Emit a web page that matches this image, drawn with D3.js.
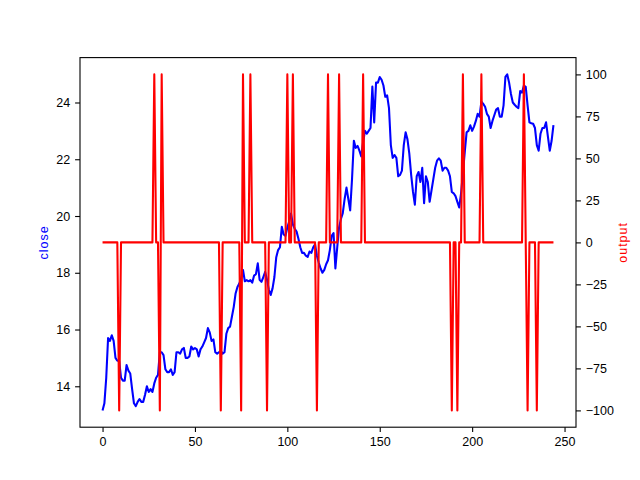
<!DOCTYPE html>
<html><head><meta charset="utf-8">
<script src="https://cdn.jsdelivr.net/npm/d3@7/dist/d3.min.js"></script>
<style>body{margin:0;background:#fff}svg text{font-family:"Liberation Sans",Arial,sans-serif}</style>
</head><body><svg id="c" width="640" height="480"></svg>
<script>
const close = [
13.15,13.4,14.3,15.7,15.6,15.8,15.6,15.0,14.9,14.9,14.3,14.2,14.2,14.75,14.55,14.45,13.9,13.4,13.3,13.45,
13.55,13.45,13.45,13.7,14.0,13.8,13.9,13.8,14.1,14.3,14.4,15.2,15.2,15.1,14.6,14.5,14.5,14.6,14.4,14.5,
15.2,15.2,15.15,15.3,15.35,15.0,15.0,15.05,15.4,15.3,15.35,15.3,15.05,15.3,15.4,15.55,15.7,16.05,15.9,15.6,
15.65,15.2,15.15,15.2,15.25,15.15,15.2,15.85,16.05,16.1,16.45,16.8,17.27,17.5,17.62,17.8,18.1,17.7,17.74,17.7,
17.74,17.65,17.9,17.95,18.33,17.75,17.68,17.85,18.03,17.75,17.4,17.22,17.45,17.85,18.55,18.8,18.9,19.62,19.35,19.3,
19.6,19.8,20.09,19.7,19.55,19.45,19.2,18.9,18.7,18.7,18.6,18.56,18.75,18.7,18.9,19.0,18.6,18.35,18.15,18.0,
18.1,18.3,18.44,18.8,19.3,19.4,18.15,18.9,19.6,19.9,20.1,20.6,21.0,20.6,20.2,21.3,22.65,22.4,22.47,22.3,
22.1,22.6,23.0,22.9,23.0,23.1,24.56,23.3,24.7,24.7,24.9,24.8,24.6,24.2,24.25,23.8,22.5,22.05,22.15,22.05,
21.4,21.45,21.6,22.5,22.95,22.7,22.2,21.45,20.85,20.4,21.4,21.55,21.2,21.7,20.45,21.4,21.2,20.5,20.9,21.3,
21.7,21.95,22.03,21.95,21.6,21.7,21.7,21.6,21.4,20.85,20.8,20.7,20.5,20.3,20.8,21.5,22.25,22.95,23.0,23.2,
23.0,23.15,23.35,23.6,23.5,24.03,23.95,23.85,23.6,23.5,23.1,23.35,23.55,23.75,23.8,23.5,23.5,23.9,24.9,24.99,
24.7,24.3,24.0,23.92,23.85,23.8,24.4,24.35,24.6,24.55,23.9,23.3,23.27,23.25,23.1,22.5,22.3,22.9,23.1,23.1,
23.3,22.8,22.3,22.65,23.2
];
const output = [
0,0,0,0,0,0,0,0,0,-100,0,0,0,0,0,0,0,0,0,0,
0,0,0,0,0,0,0,0,100,0,0,-100,100,0,0,0,0,0,0,0,
0,0,0,0,0,0,0,0,0,0,0,0,0,0,0,0,0,0,0,0,
0,0,0,0,-100,0,0,0,0,0,0,0,0,0,0,-100,100,0,0,0,
100,0,0,0,0,0,0,0,0,-100,0,0,0,0,0,0,0,0,0,0,
100,0,0,100,0,0,0,0,0,0,0,0,0,0,0,0,-100,0,0,0,
0,0,100,0,0,0,0,0,100,0,0,0,0,0,0,0,0,0,0,0,
0,100,0,0,0,0,0,0,0,0,0,0,0,0,0,0,0,0,0,0,
0,0,0,0,0,0,0,0,0,0,0,0,0,0,0,0,0,0,0,0,
0,0,0,0,0,0,0,0,0,-100,0,0,-100,0,0,100,0,0,0,0,
0,0,0,0,0,100,0,0,0,0,0,0,0,0,0,0,0,0,0,0,
0,0,0,0,0,0,0,0,100,0,-100,0,0,0,0,-100,0,0,0,0,
0,0,0,0,0
];
const xTicks = [0,50,100,150,200,250];
const leftTicks = [14,16,18,20,22,24];
const rightTicks = [-100,-75,-50,-25,0,25,50,75,100];
const leftLabel = "close", rightLabel = "output";

const svg = d3.select("#c");
const L = 80, R = 576, T = 57.6, B = 427.2;
const idx = close.map((d,i)=>i);
const n = close.length - 1;
const x = d3.scaleLinear().domain([-0.05*n, n*1.05]).range([L,R]);
const [cmin,cmax] = d3.extent(close);
const cp = (cmax-cmin)*0.05;
const y1 = d3.scaleLinear().domain([cmin-cp, cmax+cp]).range([B,T]);
const [omin,omax] = d3.extent(output);
const op = (omax-omin)*0.05;
const y2 = d3.scaleLinear().domain([omin-op, omax+op]).range([B,T]);
const minus = s => String(s).replace("-", "\u2212");

svg.append("path").datum(idx)
  .attr("d", d3.line().x(i=>x(i)).y(i=>y1(close[i])))
  .attr("fill","none").attr("stroke","#0000ff").attr("stroke-width",2.08).attr("stroke-linejoin","round");
svg.append("path").datum(idx)
  .attr("d", d3.line().x(i=>x(i)).y(i=>y2(output[i])))
  .attr("fill","none").attr("stroke","#ff0000").attr("stroke-width",2.08).attr("stroke-linejoin","round");

function styleAxis(g){
  g.select(".domain").remove();
  g.selectAll(".tick line").attr("stroke","#000").attr("stroke-width",1.1);
  g.selectAll(".tick text").attr("fill","#000").style("font-size","12.5px").style("font-family","Liberation Sans, Arial, sans-serif");
}
const gx = svg.append("g").attr("transform",`translate(0,${B})`)
  .call(d3.axisBottom(x).tickValues(xTicks).tickSize(4.9).tickPadding(4.9).tickFormat(d=>d));
styleAxis(gx);
const gl = svg.append("g").attr("transform",`translate(${L},0)`)
  .call(d3.axisLeft(y1).tickValues(leftTicks).tickSize(4.9).tickPadding(4.9).tickFormat(d=>d));
styleAxis(gl);
const gr = svg.append("g").attr("transform",`translate(${R},0)`)
  .call(d3.axisRight(y2).tickValues(rightTicks).tickSize(4.9).tickPadding(4.9).tickFormat(minus));
styleAxis(gr);

svg.append("rect").attr("x",L).attr("y",T).attr("width",R-L).attr("height",B-T)
  .attr("fill","none").attr("stroke","#000").attr("stroke-width",1.1);

svg.append("text").attr("transform",`translate(48,${(T+B)/2}) rotate(-90)`)
  .attr("text-anchor","middle").attr("fill","#0000ff").style("font-size","12.5px").style("letter-spacing","1px").text(leftLabel);
svg.append("text").attr("transform",`translate(627,${(T+B)/2}) rotate(-90)`)
  .attr("text-anchor","middle").attr("fill","#ff0000").style("font-size","12.5px").style("letter-spacing","1px").text(rightLabel);
</script></body></html>
